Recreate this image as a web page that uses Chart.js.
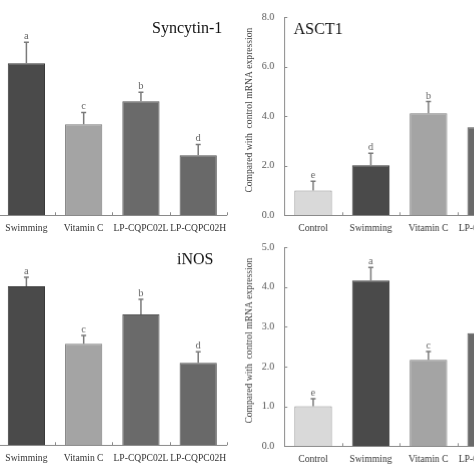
<!DOCTYPE html>
<html><head><meta charset="utf-8">
<script src="https://cdn.jsdelivr.net/npm/chart.js@4.4.1/dist/chart.umd.min.js"></script>
<style>
html,body{margin:0;padding:0;width:474px;height:474px;overflow:hidden;background:#fff;}
.panel{position:absolute;}
</style></head><body>
<div id="p1" class="panel"><canvas id="c1"></canvas></div>
<div id="p2" class="panel"><canvas id="c2"></canvas></div>
<div id="p3" class="panel"><canvas id="c3"></canvas></div>
<div id="p4" class="panel"><canvas id="c4"></canvas></div>
<script>
// ---------------- data ----------------
const categories = ['Control', 'Swimming', 'Vitamin C', 'LP-CQPC02L', 'LP-CQPC02H'];

const syncytinMeans   = [null, 6.13, 3.67, 4.60, 2.42];
const syncytinSD      = [null, 0.85, 0.48, 0.36, 0.44];
const syncytinLetters = ['', 'a', 'c', 'b', 'd'];

const asct1Means   = [1.00, 2.02, 4.12, 3.55, null];
const asct1SD      = [0.37, 0.48, 0.47, null, null];
const asct1Letters = ['e', 'd', 'b', '', ''];

const inosMeans   = [null, 4.01, 2.56, 3.30, 2.08];
const inosSD      = [null, 0.23, 0.21, 0.38, 0.28];
const inosLetters = ['', 'a', 'c', 'b', 'd'];

const geneXMeans   = [1.00, 4.16, 2.17, 2.84, null];
const geneXSD      = [0.19, 0.33, 0.21, null, null];
const geneXLetters = ['e', 'a', 'c', '', ''];

const yTicksTop    = [0, 2, 4, 6, 8];
const yTicksBottom = [0, 1, 2, 3, 4, 5];

const barFill   = ['#d9d9d9', '#4a4a4a', '#a4a4a4', '#6a6a6a', '#696969'];
const barBorder = ['#8c8c8c', '#3a3a3a', '#7c7c7c', '#555555', '#555555'];

const yAxisTitle = '     Compared with  control mRNA expression';
const FONT = "'Liberation Serif', 'Times New Roman', serif";

// ---------------- decoration plugin ----------------
const decor = {
  id: 'decor',
  afterDraw(chart, args, o) {
    const ctx = chart.ctx, ca = chart.chartArea, xs = chart.scales.x, ys = chart.scales.y;
    ctx.save();
    ctx.strokeStyle = '#8a8a8a';
    ctx.lineWidth = 1;
    const n = chart.data.labels.length;
    const sp = xs.getPixelForValue(1) - xs.getPixelForValue(0);
    ctx.beginPath();
    for (let i = 0; i <= n; i++) {
      const px = Math.round(xs.getPixelForValue(0) - sp / 2 + i * sp) + 0.5;
      ctx.moveTo(px, ca.bottom); ctx.lineTo(px, ca.bottom - 3);
    }
    ys.ticks.forEach((t) => {
      const py = Math.round(ys.getPixelForValue(t.value)) + 0.5;
      ctx.moveTo(ca.left, py); ctx.lineTo(ca.left + 3, py);
    });
    ctx.stroke();

    // error bars + letters
    const meta = chart.getDatasetMeta(0);
    const vals = chart.data.datasets[0].data;
    ctx.strokeStyle = '#7a7a7a';
    ctx.lineWidth = 1.5;
    ctx.fillStyle = '#666';
    ctx.font = '10.5px ' + FONT;
    ctx.textAlign = 'center';
    ctx.textBaseline = 'alphabetic';
    meta.data.forEach((bar, i) => {
      if (vals[i] == null) return;
      let top = bar.y;
      if (o.sd[i] != null) {
        top = ys.getPixelForValue(vals[i] + o.sd[i]);
        ctx.beginPath();
        ctx.moveTo(bar.x, bar.y); ctx.lineTo(bar.x, top);
        ctx.moveTo(bar.x - 2.5, top); ctx.lineTo(bar.x + 2.5, top);
        ctx.stroke();
      }
      if (o.letters[i]) ctx.fillText(o.letters[i], bar.x, top - 3);
    });

    // panel title
    if (o.title) {
      ctx.fillStyle = '#111';
      ctx.font = '16px ' + FONT;
      ctx.textAlign = 'left';
      ctx.fillText(o.title, ca.left + o.titleDx, ca.top + o.titleDy);
    }
    ctx.restore();
  }
};

function config(means, sd, letters, yMax, yTicks, deco, showYTitle) {
  return {
    type: 'bar',
    data: {
      labels: categories,
      datasets: [{
        data: means,
        backgroundColor: barFill,
        borderColor: barBorder,
        borderWidth: 1,
        barPercentage: 0.65,
        categoryPercentage: 1.0
      }]
    },
    options: {
      responsive: true,
      maintainAspectRatio: false,
      animation: false,
      events: [],
      layout: { padding: 0 },
      plugins: {
        legend: { display: false },
        tooltip: { enabled: false },
        decor: Object.assign({ sd: sd, letters: letters }, deco)
      },
      scales: {
        x: {
          type: 'category',
          offset: true,
          grid: { display: false, drawTicks: false },
          border: { display: true, color: '#8a8a8a', width: 1 },
          ticks: { color: '#333', font: { family: FONT, size: 9.6 }, padding: 7, maxRotation: 0, autoSkip: false }
        },
        y: {
          min: 0, max: yMax,
          afterBuildTicks: (s) => { s.ticks = yTicks.map(v => ({ value: v })); },
          grid: { display: false, drawTicks: false },
          border: { display: true, color: '#8a8a8a', width: 1 },
          title: { display: showYTitle, text: yAxisTitle, color: '#444',
                   font: { family: FONT, size: 9.6 }, padding: { top: 0, bottom: -3.8 } },
          ticks: { color: '#555', font: { family: FONT, size: 10 }, padding: 10,
                   callback: (v) => Number(v).toFixed(1) }
        }
      }
    },
    plugins: [decor]
  };
}

function place(id, cfg, t) {
  const div = document.getElementById('p' + id);
  const cv = document.getElementById('c' + id);
  let w = t.right - t.left + 80, h = t.bottom - t.top + 40;
  div.style.width = w + 'px'; div.style.height = h + 'px';
  let ch = new Chart(cv, cfg);
  const ca = ch.chartArea;
  w = w - (ca.right - ca.left) + (t.right - t.left);
  h = h - (ca.bottom - ca.top) + (t.bottom - t.top);
  ch.destroy();
  div.style.width = w + 'px'; div.style.height = h + 'px';
  ch = new Chart(cv, cfg);
  const c2 = ch.chartArea;
  div.style.left = (t.left - c2.left) + 'px';
  div.style.top = (t.top - c2.top) + 'px';
  return ch;
}

const leftX = { left: -59.5, right: 232 };
const rightX = { left: 284.7, right: 576.2 };

place(1, config(syncytinMeans, syncytinSD, syncytinLetters, 8, yTicksTop,
  { title: 'Syncytin-1', titleDx: 211.5, titleDy: 16.3 }, false),
  { left: leftX.left, right: leftX.right, top: 16.7, bottom: 215 });

place(2, config(asct1Means, asct1SD, asct1Letters, 8, yTicksTop,
  { title: 'ASCT1', titleDx: 9.3, titleDy: 17.3 }, true),
  { left: rightX.left, right: rightX.right, top: 16.7, bottom: 215 });

place(3, config(inosMeans, inosSD, inosLetters, 5, yTicksBottom,
  { title: 'iNOS', titleDx: 236.5, titleDy: 16.7 }, false),
  { left: leftX.left, right: leftX.right, top: 247, bottom: 444.3 });

place(4, config(geneXMeans, geneXSD, geneXLetters, 5, yTicksBottom,
  {}, true),
  { left: rightX.left, right: rightX.right, top: 247, bottom: 445.3 });
</script>
</body></html>
